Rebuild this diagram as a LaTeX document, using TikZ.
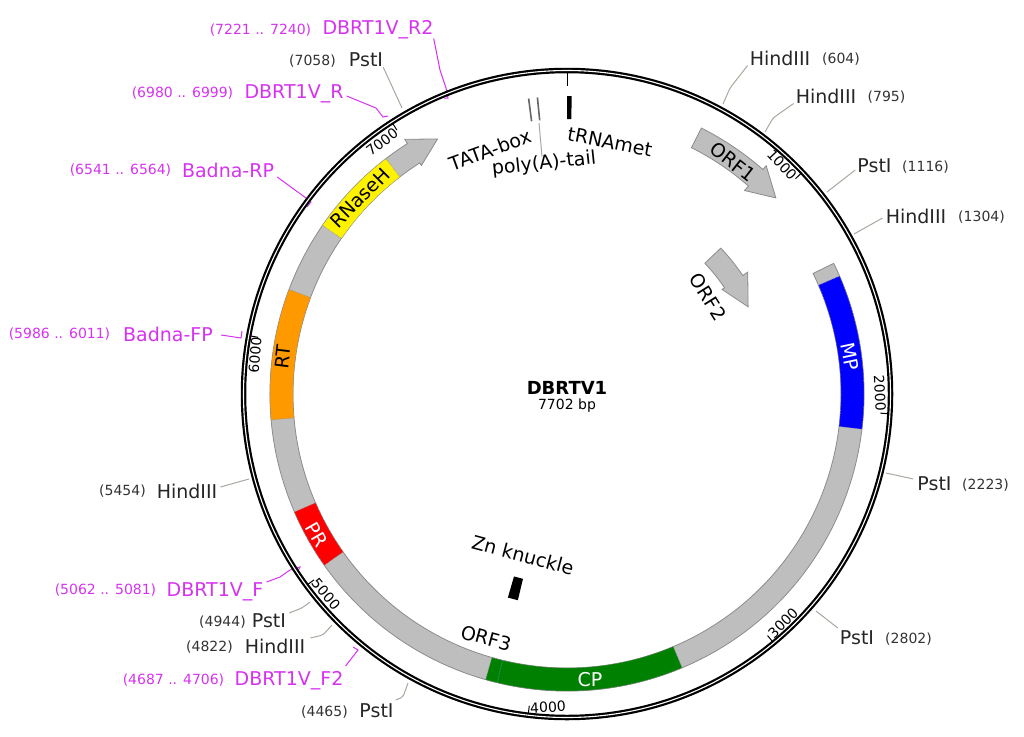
\documentclass[tikz,border=0pt]{standalone}
\usepackage{fontspec}
\setmainfont{DejaVu Sans}
\definecolor{primer}{HTML}{D633F0}
\definecolor{ringgray}{HTML}{BEBEBE}
\definecolor{edgegray}{HTML}{8C8C8C}
\definecolor{leadgray}{HTML}{A8A89E}
\definecolor{rtorange}{HTML}{FF9900}
\tikzstyle{enzyme} = [inner sep=0pt, text=black!85, font=\fontsize{19}{19}\selectfont]
\tikzstyle{enzpos} = [inner sep=0pt, text=black!80, font=\fontsize{14}{14}\selectfont]
\tikzstyle{primname} = [inner sep=0pt, text=primer, font=\fontsize{19}{19}\selectfont]
\tikzstyle{primpos} = [inner sep=0pt, text=primer, font=\fontsize{14}{14}\selectfont]
\tikzstyle{feature} = [inner sep=0pt, font=\fontsize{19}{19}\selectfont]
\tikzstyle{ticktext} = [inner sep=0pt, font=\fontsize{14}{14}\selectfont]
\tikzstyle{leader} = [draw=leadgray, line width=1pt, rounded corners=3pt]
\tikzstyle{primline} = [draw=primer, line width=1pt]
\tikzstyle{tick} = [draw=black, line width=1pt]
\tikzstyle{gene} = [draw=edgegray, fill=ringgray, line width=0.8pt]
\tikzstyle{part} = [draw=edgegray, densely dotted, line width=0.6pt]
\tikzstyle{ring} = [draw=black, line width=2.2pt, double=white, double distance=1.1pt]
\newcommand{\arcband}[3]{\path [#1] ({90-#2}:297pt) arc [start angle={90-#2}, end angle={90-#3}, radius=297pt]
    -- ({90-#3}:274pt) arc [start angle={90-#3}, end angle={90-#2}, radius=274pt] -- cycle;}
\begin{document}
\begin{tikzpicture}[x=1pt, y=1pt]
\useasboundingbox (0,0) rectangle (1024,-736);
% primers
\node [primpos] at (260.5,-30) (pos7221) {(7221 .. 7240)};
\node [primname] at (378,-30) (r2) {DBRT1V\_R2};
\node [primpos] at (182.5,-93) (pos6980) {(6980 .. 6999)};
\node [primname] at (294,-94) (r1) {DBRT1V\_R};
\node [primpos] at (120.5,-170) (pos6541) {(6541 .. 6564)};
\node [primname] at (228,-170) (rp) {Badna-RP};
\node [primpos] at (59.5,-334) (pos5986) {(5986 .. 6011)};
\node [primname] at (168,-334) (fp) {Badna-FP};
\node [primpos] at (105.5,-590) (pos5062) {(5062 .. 5081)};
\node [primname] at (215,-592) (f1) {DBRT1V\_F};
\node [primpos] at (173.5,-680) (pos4687) {(4687 .. 4706)};
\node [primname] at (289,-681) (f2) {DBRT1V\_F2};
\coordinate (kr2) at (440,-70); \coordinate (hr2) at (446,-88);
\coordinate (kr1) at (376,-108); \coordinate (hr1) at (383,-117);
\coordinate (hrp) at (306,-198);
\coordinate (hfp) at (241,-338);
\coordinate (kf1) at (280,-577); \coordinate (hf1) at (290,-570);
\coordinate (hf2) at (358,-650);
\path [primline] (r2.south east) ++(0,1) -- (kr2) -- (hr2) -- (448,-98) -- (444,-98);
\path [primline] (r1.east) ++(3,-2) -- (kr1) -- (hr1) -- (388,-116);
\path [primline] (rp.east) ++(3,-7) -- (hrp) -- (311,-202) -- (307,-207);
\path [primline] (fp.east) ++(8,-1) -- (hfp) -- (242,-331);
\path [primline] (f1.east) ++(3,10) -- (kf1) -- (hf1) -- (300,-567) -- (298,-571);
\path [primline] (f2.east) ++(2,15) -- (hf2) -- (353,-647);
% sites
\node [enzpos] at (312.5,-61) (pos7058) {(7058)};
\node [enzyme] at (366,-60) (pst7058) {PstI};
\node [enzyme] at (780,-58) (hin604) {HindIII};
\node [enzpos] at (841,-59) (pos604) {(604)};
\node [enzyme] at (826,-96) (hin795) {HindIII};
\node [enzpos] at (886.5,-97) (pos795) {(795)};
\node [enzyme] at (874.5,-166) (pst1116) {PstI};
\node [enzpos] at (925.5,-167) (pos1116) {(1116)};
\node [enzyme] at (916,-216) (hin1304) {HindIII};
\node [enzpos] at (981.5,-217) (pos1304) {(1304)};
\node [enzyme] at (934.5,-484) (pst2223) {PstI};
\node [enzpos] at (985.5,-485) (pos2223) {(2223)};
\node [enzyme] at (857,-638) (pst2802) {PstI};
\node [enzpos] at (908.5,-639) (pos2802) {(2802)};
\node [enzpos] at (122.5,-491) (pos5454) {(5454)};
\node [enzyme] at (187,-491) (hin5454) {HindIII};
\node [enzpos] at (222.5,-622) (pos4944) {(4944)};
\node [enzyme] at (269,-621) (pst4944) {PstI};
\node [enzpos] at (209.5,-647) (pos4822) {(4822)};
\node [enzyme] at (275,-646) (hin4822) {HindIII};
\node [enzpos] at (324.5,-712) (pos4465) {(4465)};
\node [enzyme] at (376.5,-711) (pst4465) {PstI};
\coordinate (k604) at (730,-88); \coordinate (r604) at (723,-104);
\coordinate (k795) at (773,-118); \coordinate (r795) at (765,-132);
\coordinate (r7058) at (402,-108);
\coordinate (r1116) at (827,-192);
\coordinate (r1304) at (854,-234);
\coordinate (r2223) at (886,-473);
\coordinate (r2802) at (816,-611);
\coordinate (r5454) at (249,-479);
\coordinate (k4944) at (302,-608); \coordinate (r4944) at (310,-602);
\coordinate (k4822) at (323,-635); \coordinate (r4822) at (332,-625);
\coordinate (k4465) at (403,-697); \coordinate (r4465) at (408,-683);
\path [leader] (pst7058.south east) ++(0,0) -- (r7058);
\path [leader] (hin604.south west) ++(-2,0) -- (k604) -- (r604);
\path [leader] (hin795.south west) ++(-2,0) -- (k795) -- (r795);
\path [leader] (pst1116.west) ++(-2,-4) -- (r1116);
\path [leader] (hin1304.west) ++(-3,-2) -- (r1304);
\path [leader] (pst2223.west) ++(-4,5) -- (r2223);
\path [leader] (pst2802.west) ++(-2,10) -- (r2802);
\path [leader] (hin5454.east) ++(3,4) -- (r5454);
\path [leader] (pst4944.east) ++(3,8) -- (k4944) -- (r4944);
\path [leader] (hin4822.east) ++(5,8) -- (k4822) -- (r4822);
\path [leader] (pst4465.east) ++(2,11) -- (k4465) -- (r4465);
% map
\begin{scope}[shift={(567,-394)}]
\path [ring] (0,0) circle (323.5pt);
\path [gene] (26.1:297pt) arc [start angle=26.1, end angle=-237.5, radius=297pt]
    -- (-237.5:302pt) -- (-243.1:286pt) -- (-237.5:271pt) -- (-237.5:274pt)
    arc [start angle=-237.5, end angle=26.1, radius=274pt] -- cycle;
\path [gene] (63.2:298pt) arc [start angle=63.2, end angle=48.9, radius=298pt]
    -- (48.9:303pt) -- (43.2:286.5pt) -- (48.9:270pt) -- (48.9:276pt)
    arc [start angle=48.9, end angle=63.2, radius=276pt] -- cycle;
\path [gene] (43.5:212pt) arc [start angle=43.5, end angle=34, radius=212pt]
    -- (34:218pt) -- (25.7:201pt) -- (34:187pt) -- (34:190pt)
    arc [start angle=34, end angle=43.5, radius=190pt] -- cycle;
\arcband{part, fill=blue}{66.6}{96.8}
\arcband{part, fill=green!50!black}{157.2}{195.9}
\arcband{part, fill=red}{234.8}{246.6}
\arcband{part, fill=rtorange}{265}{290.6}
\arcband{part, fill=yellow}{304.6}{322.4}
\path [draw=cyan!60!gray, densely dotted, line width=0.6pt] (-103.6:274pt) -- (-103.6:297pt);
% marks
\fill [black] (90:275pt) -- (90:298pt) -- (89.1:298pt) -- (89.1:275pt) -- cycle;
\path [draw=black!60, line width=1.6pt] (97.4:275pt) -- (97.4:298pt);
\path [draw=black!60, line width=1.6pt] (95.7:275pt) -- (95.7:298pt);
\fill [black] (-103.4:190pt) -- (-103.4:212pt) -- (-106.2:212pt) -- (-106.2:190pt) -- cycle;
% ruler
\path [tick] (90:322pt) -- (90:308pt);
\path [tick] (43.3:322pt) -- (43.3:314pt);
\path [tick] (-3.5:322pt) -- (-3.5:314pt);
\path [tick] (-50.3:322pt) -- (-50.3:314pt);
\path [tick] (-96.9:322pt) -- (-96.9:314pt);
\path [tick] (-143.7:322pt) -- (-143.7:314pt);
\path [tick] (-190.4:322pt) -- (-190.4:314pt);
\path [tick] (-237.2:322pt) -- (-237.2:314pt);
\end{scope}
\node [ticktext, rotate=-47] at (782,-165) (t1000) {1000};
\node [ticktext, rotate=-87] at (880,-393) (t2000) {2000};
\node [ticktext, rotate=45] at (783,-623) (t3000) {3000};
\node [ticktext, rotate=3] at (548,-707) (t4000) {4000};
\node [ticktext, rotate=-50] at (326,-594) (t5000) {5000};
\node [ticktext, rotate=85] at (255,-355) (t6000) {6000};
\node [ticktext, rotate=37] at (382,-142) (t7000) {7000};
% features
\node [feature] at (610,-142) [rotate=-11] (trna) {tRNAmet};
\node [feature] at (490,-150) [rotate=20] (tata) {TATA-box};
\node [feature] at (544,-164) [rotate=6] (polya) {poly(A)-tail};
\coordinate (rpolya) at (539,-123);
\path [leader] (polya.north) ++(-1,-2) -- (rpolya);
\node [feature] at (733,-162) [rotate=-38] (orf1) {ORF1};
\node [feature] at (708,-297) [rotate=-58] (orf2) {ORF2};
\node [feature] at (486,-638) [rotate=-15] (orf3) {ORF3};
\node [feature] at (523,-555) [rotate=-15] (zn) {Zn knuckle};
\node [feature] at (360,-198) [rotate=45] (rnaseh) {RNaseH};
\node [feature] at (283,-357) [rotate=83] (rt) {RT};
\node [feature, text=white] at (317,-535) [rotate=-60] (pr) {PR};
\node [feature, text=white] at (590,-680) (cp) {CP};
\node [feature, text=white] at (850,-357) [rotate=-78] (mp) {MP};
\node [inner sep=0pt, font=\fontsize{18}{18}\selectfont\bfseries] at (567,-388) (name) {DBRTV1};
\node [inner sep=0pt, font=\fontsize{14}{14}\selectfont] at (567,-406) (size) {7702 bp};
\end{tikzpicture}
\end{document}
